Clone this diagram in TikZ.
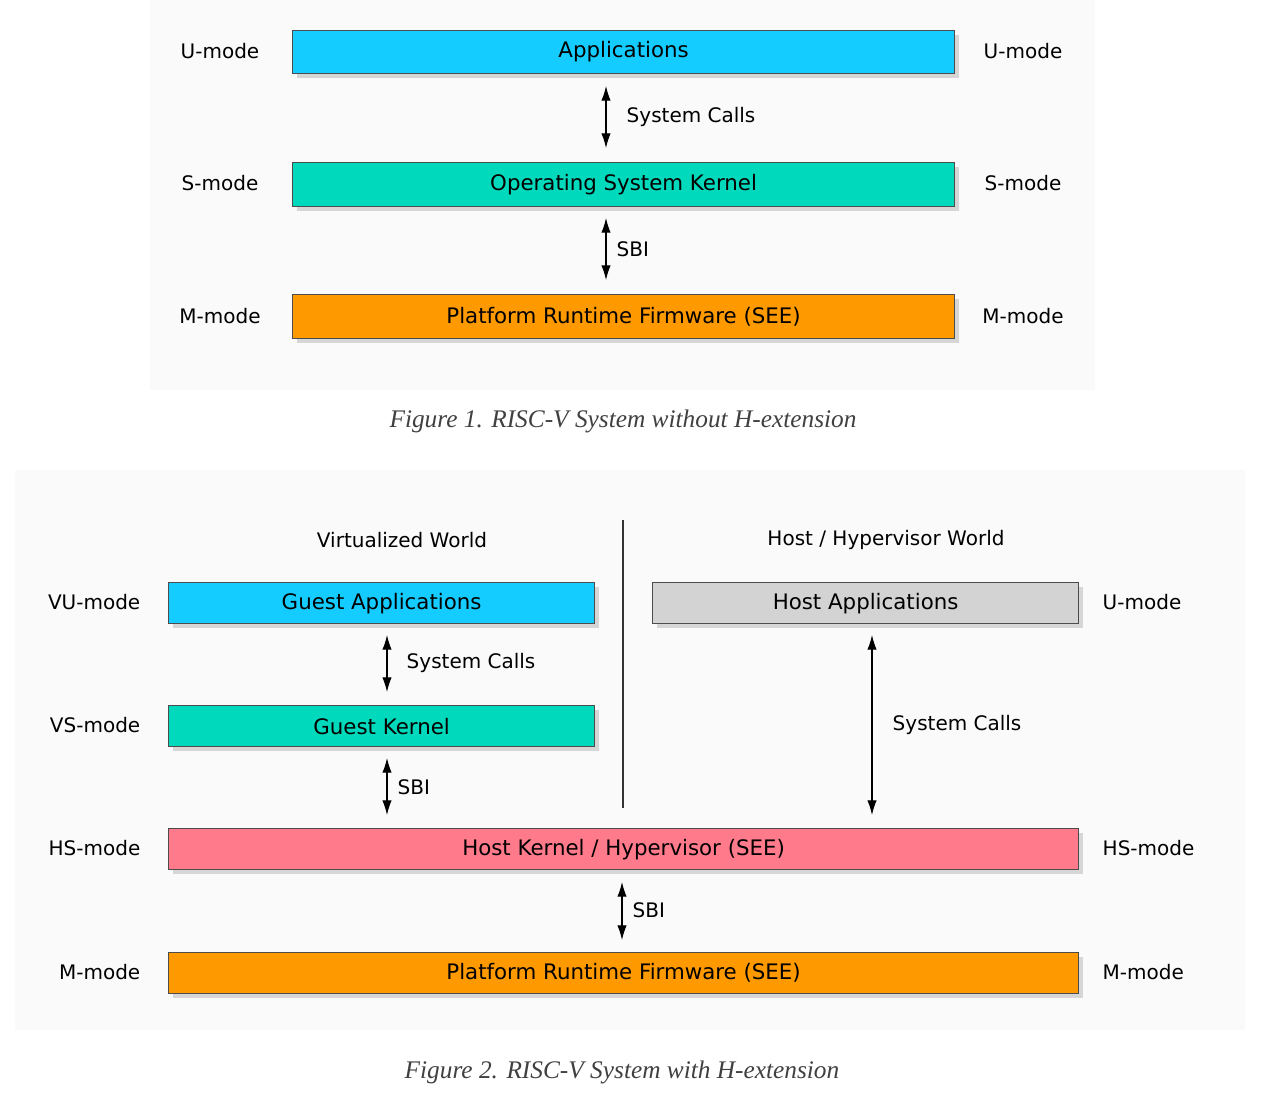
\documentclass[tikz,border=0pt]{standalone}
\usepackage{fontspec}
\setmainfont{DejaVu Sans}
\newfontfamily\capfont{Liberation Serif}
\usetikzlibrary{arrows.meta,shadows}
\begin{document}
\begin{tikzpicture}[x=0.75pt,y=-0.75pt,
  box/.style={draw=black!70,line width=0.9pt,anchor=north west,inner sep=0pt,font=\fontsize{16}{18}\selectfont,drop shadow={shadow xshift=3pt,shadow yshift=-3pt,fill=black!25,opacity=0.6}},
  lbl/.style={font=\fontsize{15}{18}\selectfont},
  arr/.style={{Latex[length=11pt,width=7pt]}-{Latex[length=11pt,width=7pt]},line width=0.8pt},
  figcap/.style={font=\capfont\itshape\fontsize{19}{22}\selectfont,text=black!75}]
\useasboundingbox (0,0) rectangle (1262,1101);
\fill[black!2] (150,0) rectangle (1095,390);
\fill[black!2] (15,470) rectangle (1245,1030);
% Figure 1
\node[box,fill={rgb,255:red,20;green,204;blue,255},minimum width=662*0.75pt,minimum height=43*0.75pt] (app) at (292,30) {Applications};
\node[box,fill={rgb,255:red,0;green,217;blue,187},minimum width=662*0.75pt,minimum height=44*0.75pt] (os) at (292,162) {Operating System Kernel};
\node[box,fill={rgb,255:red,255;green,153;blue,0},minimum width=662*0.75pt,minimum height=44*0.75pt] (fw) at (292,294) {Platform Runtime Firmware (SEE)};
\node[lbl] (u1) at (220,51) {U-mode};
\node[lbl] (s1) at (220,183) {S-mode};
\node[lbl] (m1) at (220,316) {M-mode};
\node[lbl] (u1r) at (1023,51) {U-mode};
\node[lbl] (s1r) at (1023,183) {S-mode};
\node[lbl] (m1r) at (1023,316) {M-mode};
\coordinate (a1t) at (606,86); \coordinate (a1b) at (606,148);
\coordinate (a2t) at (606,218); \coordinate (a2b) at (606,280);
\draw[arr] (a1t) -- (a1b);
\draw[arr] (a2t) -- (a2b);
\node[lbl,anchor=west] (sc1) at (622,117) {System Calls};
\node[lbl,anchor=west] (sbi1) at (612,249) {SBI};
\node[figcap] (c1) at (623,421) {Figure 1. RISC-V System without H-extension};
% Figure 2
\node[lbl] (vw) at (402,540) {Virtualized World};
\node[lbl] (hw) at (886,540) {Host / Hypervisor World};
\coordinate (d1) at (623,520); \coordinate (d2) at (623,808);
\draw[line width=0.8pt,black!80] (d1) -- (d2);
\node[box,fill={rgb,255:red,20;green,204;blue,255},minimum width=426*0.75pt,minimum height=41*0.75pt] (ga) at (168,582) {Guest Applications};
\node[box,fill={rgb,255:red,0;green,217;blue,187},minimum width=426*0.75pt,minimum height=41*0.75pt] (gk) at (168,705) {Guest Kernel};
\node[box,fill={rgb,255:red,211;green,211;blue,211},minimum width=426*0.75pt,minimum height=41*0.75pt] (ha) at (652,582) {Host Applications};
\node[box,fill={rgb,255:red,255;green,122;blue,138},minimum width=910*0.75pt,minimum height=41*0.75pt] (hk) at (168,828) {Host Kernel / Hypervisor (SEE)};
\node[box,fill={rgb,255:red,255;green,153;blue,0},minimum width=910*0.75pt,minimum height=41*0.75pt] (fw2) at (168,952) {Platform Runtime Firmware (SEE)};
\node[lbl,anchor=east] (vu) at (145,602) {VU-mode};
\node[lbl,anchor=east] (vs) at (145,725) {VS-mode};
\node[lbl,anchor=east] (hs) at (145,848) {HS-mode};
\node[lbl,anchor=east] (m2) at (145,972) {M-mode};
\node[lbl,anchor=west] (u2) at (1098,602) {U-mode};
\node[lbl,anchor=west] (hs2) at (1098,848) {HS-mode};
\node[lbl,anchor=west] (m2r) at (1098,972) {M-mode};
\coordinate (b1t) at (387,635); \coordinate (b1b) at (387,692);
\coordinate (b2t) at (387,758); \coordinate (b2b) at (387,815);
\coordinate (b3t) at (872,635); \coordinate (b3b) at (872,815);
\coordinate (b4t) at (622,882); \coordinate (b4b) at (622,940);
\draw[arr] (b1t) -- (b1b);
\draw[arr] (b2t) -- (b2b);
\draw[arr] (b3t) -- (b3b);
\draw[arr] (b4t) -- (b4b);
\node[lbl,anchor=west] (sc2) at (402,663) {System Calls};
\node[lbl,anchor=west] (sbi2) at (393,787) {SBI};
\node[lbl,anchor=west] (sc3) at (888,725) {System Calls};
\node[lbl,anchor=west] (sbi3) at (628,910) {SBI};
\node[figcap] (c2) at (622,1072) {Figure 2. RISC-V System with H-extension};
\end{tikzpicture}
\end{document}
